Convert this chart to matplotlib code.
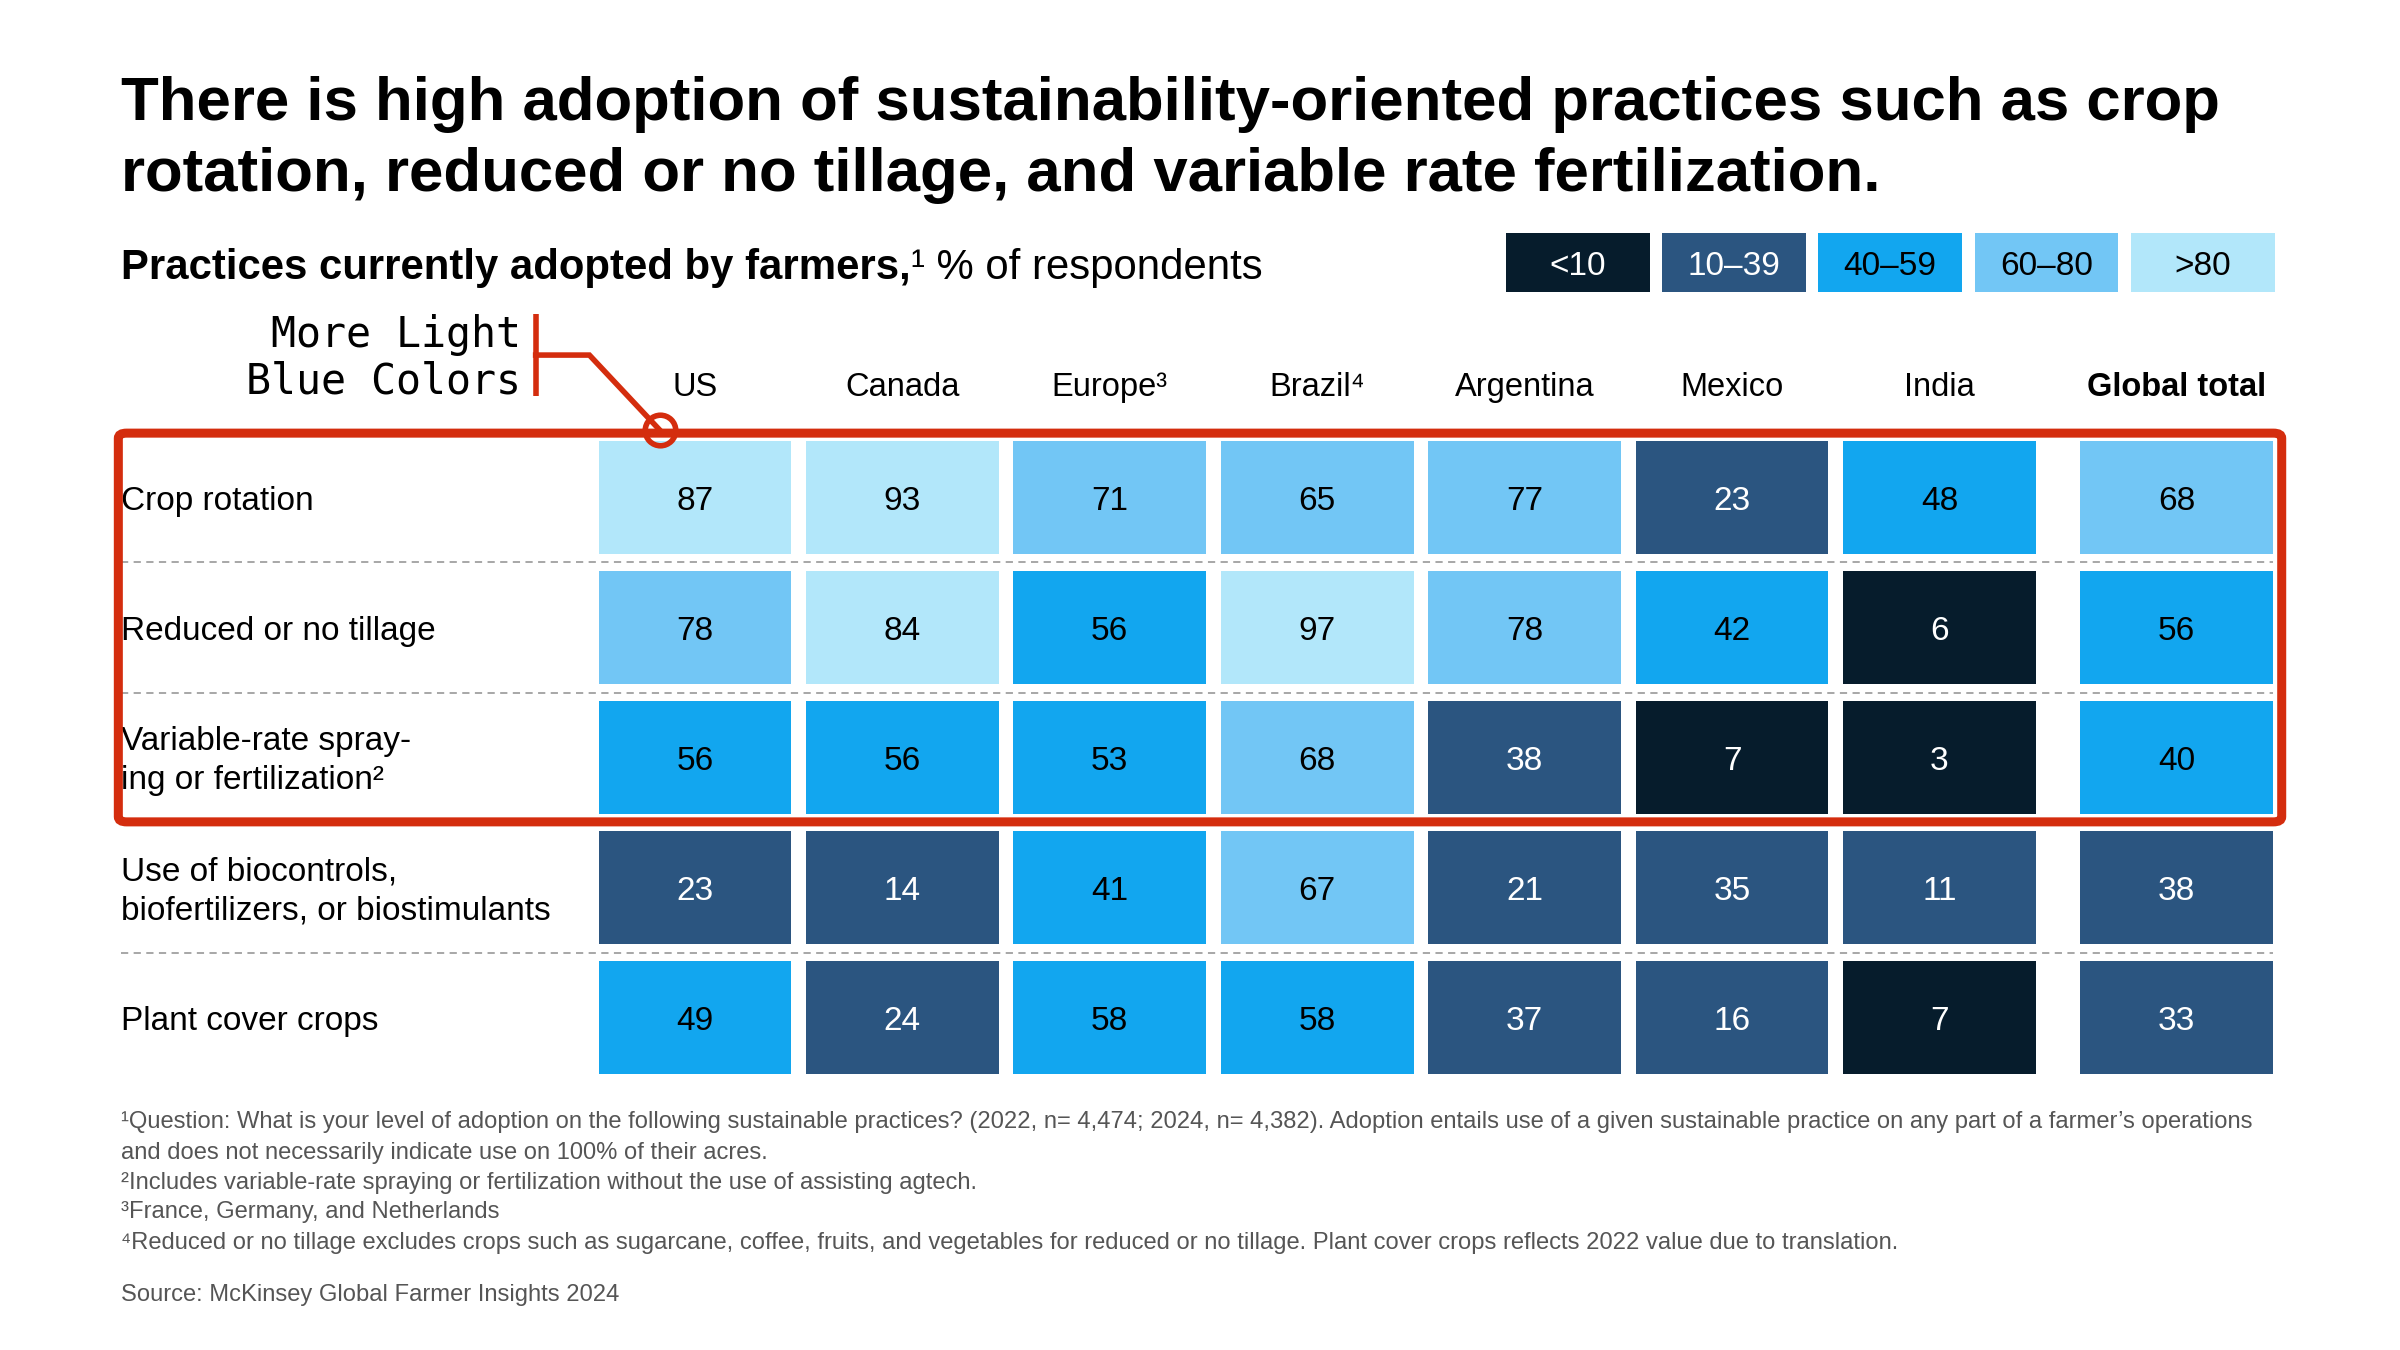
import numpy as np
import matplotlib
matplotlib.use('Agg')
import matplotlib.pyplot as plt
from matplotlib.patches import FancyBboxPatch

plt.rcParams['font.family'] = ['Liberation Sans', 'DejaVu Sans']

# data
practices = ['Crop rotation', 'Reduced or no tillage',
             'Variable-rate spray-\ning or fertilization\u00b2',
             'Use of biocontrols,\nbiofertilizers, or biostimulants',
             'Plant cover crops']
regions = ['US', 'Canada', 'Europe\u00b3', 'Brazil\u2074', 'Argentina',
           'Mexico', 'India', 'Global total']
crop_rotation = [87, 93, 71, 65, 77, 23, 48, 68]
reduced_tillage = [78, 84, 56, 97, 78, 42, 6, 56]
variable_rate = [56, 56, 53, 68, 38, 7, 3, 40]
biocontrols = [23, 14, 41, 67, 21, 35, 11, 38]
cover_crops = [49, 24, 58, 58, 37, 16, 7, 33]
bin_labels = ['<10', '10\u201339', '40\u201359', '60\u201380', '>80']
bin_edges = [10, 40, 60, 81]
bin_colors = ['#061c2c', '#2b5580', '#12a6ef', '#72c6f5', '#b2e7fa']
bin_text = ['white', 'white', 'black', 'black', 'black']

title = ('There is high adoption of sustainability-oriented practices such as crop\n'
         'rotation, reduced or no tillage, and variable rate fertilization.')
footnotes = [
    '\u00b9Question: What is your level of adoption on the following sustainable practices? '
    '(2022, n= 4,474; 2024, n= 4,382). Adoption entails use of a given sustainable practice '
    'on any part of a farmer\u2019s operations',
    'and does not necessarily indicate use on 100% of their acres.',
    '\u00b2Includes variable-rate spraying or fertilization without the use of assisting agtech.',
    '\u00b3France, Germany, and Netherlands',
    '\u2074Reduced or no tillage excludes crops such as sugarcane, coffee, fruits, and vegetables '
    'for reduced or no tillage. Plant cover crops reflects 2022 value due to translation.',
]
source = 'Source: McKinsey Global Farmer Insights 2024'

values = np.array([crop_rotation, reduced_tillage, variable_rate, biocontrols, cover_crops])
col_x = np.array([0, 1, 2, 3, 4, 5, 6, 7.144])
RED = '#d42d0e'

W, H = 2400, 1350
fig = plt.figure(figsize=(24, 13.5), dpi=100)

# table axes: x in column units, y in row units
ax = fig.add_axes([72.7 / W, 1 - 1147.9 / H, 2281.6 / W, 910.7 / H])
ax.set_xlim(-3, 8)
ax.set_ylim(5, -2)
ax.axis('off')

label_x = -2.768
right_x = col_x[-1] + 0.465
dy = 0.028  # small text nudge
for r in range(len(practices)):
    bins = np.digitize(values[r], bin_edges)
    ax.bar(col_x, 0.87, bottom=r - 0.435, width=0.93,
           color=[bin_colors[b] for b in bins], zorder=2)
    for x, v, b in zip(col_x, values[r], bins):
        ax.text(x, r + dy, str(v), ha='center', va='center', fontsize=24,
                color=bin_text[b], zorder=3)
    ax.text(label_x, r + dy, practices[r], ha='left', va='center', fontsize=24,
            linespacing=1.35, zorder=3)
    if r < len(practices) - 1:
        ax.plot([label_x, right_x], [r + 0.5, r + 0.5], ls=(0, (4, 3)),
                color='#a0a0a0', lw=1.3, zorder=1)

for x, name in zip(col_x, regions):
    ax.text(x, -0.87 + dy, name, ha='center', va='center', fontsize=23.5,
            weight='bold' if name == 'Global total' else 'normal')

# highlight box + annotation
box = FancyBboxPatch((-2.78, -0.494), 7.65 + 2.78, 2.988,
                     boxstyle='round,pad=0,rounding_size=0.04',
                     fill=False, ec=RED, lw=6.5, zorder=5)
ax.add_patch(box)
ax.plot([-0.768, -0.768], [-1.41, -0.776], color=RED, lw=4, zorder=5,
        solid_capstyle='butt')
ax.plot([-0.768, -0.509, -0.17], [-1.094, -1.094, -0.518], color=RED, lw=4,
        zorder=5, solid_joinstyle='miter')
ax.plot([-0.17], [-0.518], 'o', ms=22, mfc='none', mec=RED, mew=4, zorder=6)
ax.text(-0.841, -1.07, 'More Light\nBlue Colors', ha='right', va='center',
        fontsize=30, family='DejaVu Sans Mono', linespacing=1.12, zorder=5)

# legend
lax = fig.add_axes([1506 / W, 1 - 292.3 / H, 768.5 / W, 59.7 / H])
lax.set_xlim(-0.46, 4.46)
lax.set_ylim(0, 1)
lax.axis('off')
lax.bar(range(len(bin_labels)), 1, width=0.92, color=bin_colors)
for i, lab in enumerate(bin_labels):
    lax.text(i, 0.44, lab, ha='center', va='center', fontsize=24, color=bin_text[i])

# title and subtitle
fig.text(121 / W, 1 - 140 / H, title, ha='left', va='center', fontsize=44.5,
         weight='bold', linespacing=1.32)
renderer = fig.canvas.get_renderer()
sub_y = 1 - 268 / H
t1 = fig.text(121 / W, sub_y, 'Practices currently adopted by farmers,', ha='left',
              va='center', fontsize=30.2, weight='bold')
bb = t1.get_window_extent(renderer=renderer)
fig.text(bb.x1 / W, sub_y, '\u00b9 % of respondents', ha='left', va='center', fontsize=30.2)

# footnotes
foot_y = [1122, 1153, 1183, 1212, 1243]
for yy, line in zip(foot_y, footnotes):
    fig.text(121 / W, 1 - yy / H, line, ha='left', va='center', fontsize=17.1,
             color='#555555')
fig.text(121 / W, 1 - 1295 / H, source, ha='left', va='center', fontsize=17.1,
         color='#555555')

fig.savefig('out.png', dpi=100, facecolor='white')
